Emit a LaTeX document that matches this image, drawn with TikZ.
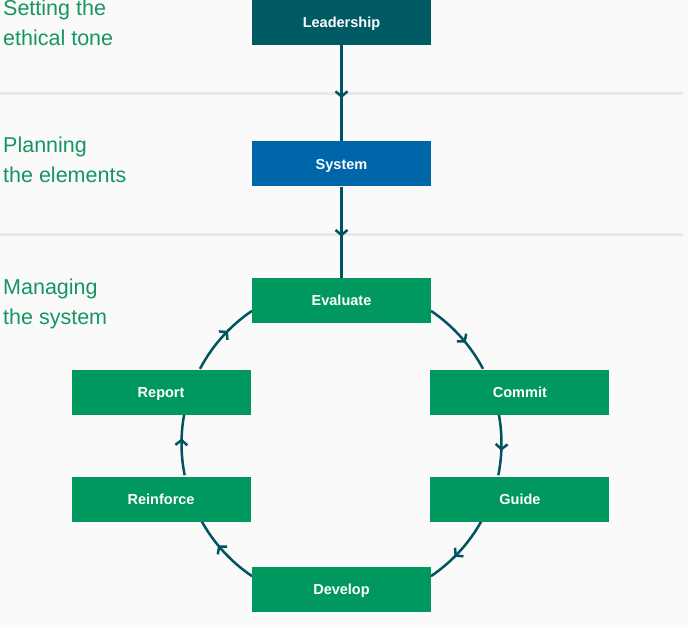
\documentclass[tikz,border=0pt]{standalone}
\usepackage{fontspec}
\setmainfont{Liberation Sans}
\usetikzlibrary{arrows.meta, positioning, decorations.markings}
\definecolor{pagebg}{RGB}{250,250,250}
\definecolor{rulegray}{RGB}{232,232,232}
\definecolor{leadteal}{RGB}{0,90,100}
\definecolor{sysblue}{RGB}{0,102,170}
\definecolor{stagegreen}{RGB}{0,152,94}
\definecolor{phasegreen}{RGB}{22,150,95}
\definecolor{linkteal}{RGB}{0,83,95}
\tikzset{
    stage/.style={
        rectangle, fill=stagegreen, text=white,
        font=\bfseries\fontsize{14.5}{17}\selectfont,
        text height=10.5pt, text depth=0pt,
        minimum width=179pt, minimum height=45pt, inner sep=0pt
    },
    phase/.style={anchor=base west, align=left, inner sep=0pt,
        text=phasegreen, font=\fontsize{21.5}{29.5}\selectfont},
    divider/.style={draw=rulegray, line width=3pt},
    % connector with a barb in the middle
    flow/.style={draw=linkteal, line width=2.5pt, postaction=decorate,
        decoration={markings, mark=at position #1 with
            {\arrow{Straight Barb[length=5pt,width=12pt,line width=2.5pt]}}}},
    flow/.default=0.6
}
\begin{document}
\begin{tikzpicture}[x=1pt, y=-1pt]
    \fill[pagebg] (0,0) rectangle (688,627);
    \useasboundingbox (0,0) rectangle (688,627);

    % phases
    \draw[divider] (0,93) -- (683,93);
    \draw[divider] (0,234) -- (683,234);
    \node[phase] (tone) at (3,45) {Setting the\\ethical tone};
    \node[phase] (plan) at (3,182) {Planning\\the elements};
    \node[phase] (manage) at (3,324) {Managing\\the system};

    % cycle (angles negated, y runs down)
    \coordinate (ctr) at (341.5,443.5);
    \draw[flow] (ctr) ++(-56:160) arc[start angle=-56, end angle=-27.8, radius=160];
    \draw[flow] (ctr) ++(-10.6:160) arc[start angle=-10.6, end angle=11.4, radius=160];
    \draw[flow] (ctr) ++(28.6:160) arc[start angle=28.6, end angle=56, radius=160];
    \draw[flow] (ctr) ++(124:160) arc[start angle=124, end angle=151.4, radius=160];
    \draw[flow] (ctr) ++(-191.4:160) arc[start angle=-191.4, end angle=-169.4, radius=160];
    \draw[flow] (ctr) ++(-152.2:160) arc[start angle=-152.2, end angle=-124, radius=160];

    \node[stage, fill=leadteal] (leadership) at (341.5,22.5) {Leadership};
    \node[stage, fill=sysblue, below=96pt of leadership] (system) {System};
    \node[stage, below=91pt of system] (evaluate) {Evaluate};
    \node[stage, below right=47pt and -1pt of evaluate] (commit) {Commit};
    \node[stage, below=61pt of commit] (guide) {Guide};
    \node[stage, below=244pt of evaluate] (develop) {Develop};
    \node[stage, below left=47pt and 1pt of evaluate] (report) {Report};
    \node[stage, below=61pt of report] (reinforce) {Reinforce};

    \draw[flow=0.55] (leadership) -- (system);
    \draw[flow=0.55] (system) -- (evaluate);
\end{tikzpicture}
\end{document}
